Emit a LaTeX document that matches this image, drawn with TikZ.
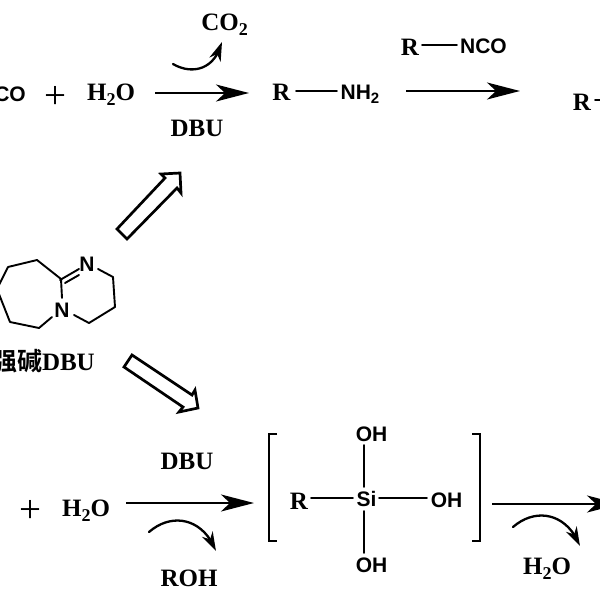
\documentclass[tikz,border=0pt]{standalone}
\usepackage{fontspec}
\setmainfont{Liberation Serif}
\setsansfont{Liberation Sans}
\newfontfamily\cjk{Noto Sans CJK SC}[BoldFont={* Bold}]
\usetikzlibrary{arrows.meta,bending}
\newcommand{\subtwo}{\raisebox{-5pt}{\fontsize{18}{18}\selectfont 2}}
\newcommand{\subtwosans}{\raisebox{-4pt}{\fontsize{15}{15}\selectfont 2}}
\tikzset{
 x=1pt,y=-1pt,
 serif/.style={font=\fontsize{25}{25}\selectfont\bfseries,inner sep=0pt,anchor=base,text=black},
 sans/.style={font=\fontsize{21}{21}\selectfont\sffamily\bfseries,inner sep=0pt,anchor=base,text=black},
 plussign/.style={font=\fontsize{39}{39}\selectfont,inner sep=0pt,anchor=base,text=black},
 bond/.style={line width=1.9pt,line cap=round,black},
 rxn/.style={line width=1.9pt,black,-{Stealth[length=33pt,width=17pt,inset=9pt]}},
 curved/.style={line width=2.3pt,black,line cap=round,-{Stealth[length=19pt,width=12pt,inset=6pt,flex=1]}},
 hollow/.style={line width=2.7pt,black,fill=white,line join=miter},
 ring/.style={line width=1.9pt,black,line join=round,line cap=round},
 bracket/.style={line width=1.9pt,black,line join=miter},
}
\begin{document}
\begin{tikzpicture}
\useasboundingbox (0,0) rectangle (600,600);
\clip (0,0) rectangle (600,600);
% top row
\node[sans,anchor=base east] (nco1) at (26,101) {CO};
\node[plussign] (plus1) at (55.5,108) {+};
\node[serif] (water1) at (111,100) {H\subtwo O};
\coordinate (a1s) at (155,93); \coordinate (a1e) at (249,93);
\draw[rxn] (a1s) -- (a1e);
\node[serif] (dbu1) at (197,136) {DBU};
\node[serif] (co2) at (224.5,30) {CO\subtwo};
\coordinate (c1s) at (173,64); \coordinate (c1e) at (222,42);
\draw[curved] (c1s) .. controls (190,74) and (214,72) .. (c1e);
\node[serif] (r1) at (281.5,100) {R};
\node[sans] (nh2) at (360,99) {NH\subtwosans};
\draw[bond] (296,91) coordinate (b1s) -- (337,91);
\coordinate (a2s) at (406,91); \coordinate (a2e) at (520,91);
\draw[rxn] (a2s) -- (a2e);
\node[serif] (r2) at (410,55) {R};
\node[sans] (nco2) at (483.5,53) {NCO};
\draw[bond] (422,45) -- (457,45);
\node[serif] (r3) at (582,110) {R};
\draw[bond] (595,100) -- (602,100);
% hollow arrows
\draw[hollow] (117,229) -- (165,178) -- (161,174) -- (180,173) -- (181,193) -- (177,188) -- (127,239) -- cycle;
\draw[hollow] (124,367) -- (132,355) -- (192,395) -- (195,390) -- (198,408) -- (179,412) -- (183,407) -- cycle;
% DBU
\node[sans] (n1) at (87,271) {N};
\node[sans] (n2) at (62,317) {N};
\draw[ring] (60,280) -- (79,269);
\draw[ring] (65,283) -- (79,275);
\draw[ring] (61,279) -- (37,260) -- (8,267) -- (-3,289) -- (10,322) -- (39,328) -- (52,317);
\draw[ring] (61,279) -- (62,298);
\draw[ring] (98,269) -- (113,277) -- (115,307) -- (89,323) -- (74,315);
\node[font=\fontsize{25}{25}\selectfont\bfseries,inner sep=0pt,anchor=base east] (dbuname) at (95,370) {{\cjk 强碱}DBU};
% bottom row
\node[plussign] (plus2) at (30.5,522) {+};
\node[serif] (water2) at (86,516) {H\subtwo O};
\coordinate (a3s) at (126,503); \coordinate (a3e) at (254,503);
\draw[rxn] (a3s) -- (a3e);
\node[serif] (dbu2) at (187,469) {DBU};
\node[serif] (roh) at (189,586) {ROH};
\coordinate (c2s) at (149,532); \coordinate (c2e) at (216,551);
\draw[curved] (c2s) .. controls (172,512) and (203,518) .. (c2e);
\draw[bracket] (277,434) -- (269,434) -- (269,541) -- (277,541);
\draw[bracket] (472,434) -- (480,434) -- (480,541) -- (472,541);
\node[serif] (r4) at (299,509) {R};
\node[sans] (si) at (366.5,506) {Si};
\node[sans] (oh1) at (446.5,507) {OH};
\node[sans] (oh2) at (371.5,441) {OH};
\node[sans] (oh3) at (371.5,572) {OH};
\draw[bond] (311,498) -- (353,498);
\draw[bond] (379,498) -- (427,498);
\draw[bond] (364,445) -- (364,487);
\draw[bond] (364,511) -- (364,553);
\coordinate (a4s) at (492,504); \coordinate (a4e) at (620,504);
\draw[rxn] (a4s) -- (a4e);
\node[serif] (water3) at (547,574) {H\subtwo O};
\coordinate (c3s) at (513,527); \coordinate (c3e) at (580,546);
\draw[curved] (c3s) .. controls (536,507) and (567,513) .. (c3e);
\end{tikzpicture}
\end{document}
